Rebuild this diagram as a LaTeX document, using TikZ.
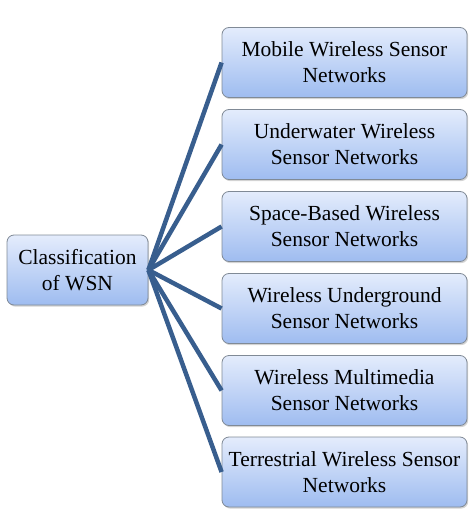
\documentclass[tikz,border=0pt]{standalone}
\usepackage{fontspec}
\setmainfont{Liberation Serif}
\usetikzlibrary{shadows}
\usetikzlibrary{positioning}
\definecolor{boxtop}{RGB}{228,236,252}
\definecolor{boxbot}{RGB}{158,188,240}
\definecolor{boxline}{RGB}{128,138,150}
\definecolor{linkblue}{RGB}{56,94,142}

\begin{document}
\begin{tikzpicture}[x=1pt,y=-1pt]

\tikzset{box/.style = {draw=boxline, line width=0.8pt, rounded corners=7pt, top color=boxtop, bottom color=boxbot, align=center, inner sep=2pt, minimum height=70pt, font=\fontsize{21.5}{26}\selectfont, drop shadow={shadow xshift=1.2pt, shadow yshift=-1.6pt, opacity=0.35}}}
\tikzset{edge/.style = {draw=linkblue, line width=4.5pt}}

\useasboundingbox (0,0) rectangle (474,516);

%root
\node[box, minimum width=141pt] (wsn) at (77.5,270) {Classification\\of WSN};

%types
\node[box, minimum width=245pt] (n1) at (344.5,62.5) {Mobile Wireless Sensor\\Networks};
\node[box, minimum width=245pt] (n2) at (344.5,144.5) {Underwater Wireless\\Sensor Networks};
\node[box, minimum width=245pt] (n3) at (344.5,226.5) {Space-Based Wireless\\Sensor Networks};
\node[box, minimum width=245pt] (n4) at (344.5,308.5) {Wireless Underground\\Sensor Networks};
\node[box, minimum width=245pt] (n5) at (344.5,390.5) {Wireless Multimedia\\Sensor Networks};
\node[box, minimum width=245pt] (n6) at (344.5,472) {Terrestrial Wireless Sensor\\Networks};

%edges
\draw[edge] (wsn.east) to (n1.west);
\draw[edge] (wsn.east) to (n2.west);
\draw[edge] (wsn.east) to (n3.west);
\draw[edge] (wsn.east) to (n4.west);
\draw[edge] (wsn.east) to (n5.west);
\draw[edge] (wsn.east) to (n6.west);

\end{tikzpicture}
\end{document}
